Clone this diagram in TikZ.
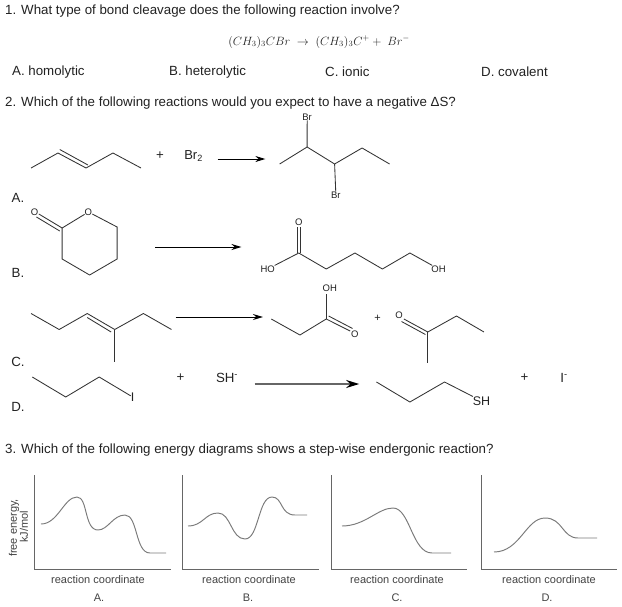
\documentclass[tikz,border=0pt]{standalone}
\usepackage{fontspec}
\setmainfont{Liberation Sans}
\usetikzlibrary{arrows.meta}
\definecolor{ink}{HTML}{222222}
\definecolor{bond}{HTML}{333333}
\definecolor{axisc}{HTML}{666666}
\definecolor{curvec}{HTML}{7A7A7A}
\tikzset{
 txt/.style={inner sep=0pt,text=ink,font=\fontsize{13.3}{15}\selectfont},
 qtxt/.style={txt,anchor=west},
 atom/.style={inner sep=0pt,text=ink,font=\fontsize{9.5}{11}\selectfont},
 atomb/.style={inner sep=0pt,text=ink,font=\fontsize{12.5}{14}\selectfont},
 axlabel/.style={inner sep=0pt,text=ink!85,font=\fontsize{11}{12}\selectfont},
 mol/.style={draw=bond,line width=0.85pt,line join=miter},
 rxn/.style={draw=black,line width=1pt,-{Stealth[length=10pt,width=6pt]}},
 rxng/.style={draw=black!60,line width=1.6pt,-{Stealth[length=13pt,width=8pt,color=black]}},
 axes/.style={draw=axisc,line width=0.8pt},
 curve/.style={draw=curvec,line width=0.95pt},
}
\begin{document}
\begin{tikzpicture}[x=1pt,y=-1pt]
\useasboundingbox[fill=white] (0,0) rectangle (622,606);
% Question 1
\node[qtxt] (q1) at (5,11) {1. What type of bond cleavage does the following reaction involve?};
\node[inner sep=0pt,text=ink,font=\fontsize{12}{14}\selectfont] (eq) at (319,42) {$(CH_3)_3CBr\ \rightarrow\ (CH_3)_3C^+ +\ Br^-$};
\node[qtxt] (a1) at (12,72) {A. homolytic};
\node[qtxt] (b1) at (169,72) {B. heterolytic};
\node[qtxt] (c1) at (325,72) {C. ionic};
\node[qtxt] (d1) at (481,72) {D. covalent};
% Question 2
\node[qtxt] (q2) at (5,103) {2. Which of the following reactions would you expect to have a negative ΔS?};
\begin{scope}[xscale=1.195]
% Reaction A
\draw[mol] (26,168) -- (48.5,153) -- (72,168) -- (94.5,153) -- (118,168);
\draw[mol] (50,149.5) -- (73.6,165);
\node[txt] (pa) at (134,156) {+};
\node[txt] (br2) at (162,156) {\fontsize{13}{14}\selectfont Br\textsubscript{2}};
\coordinate (a1s) at (182,159); \coordinate (a1e) at (222,159);
\draw[rxn] (a1s) -- (a1e);
\node[atom] (bra) at (257,117) {Br};
\node[atom] (brb) at (281,195) {Br};
\draw[mol] (234,164) -- (257,147) -- (280,164) -- (303,148) -- (326,164);
\draw[mol] (bra) -- (257,147);
\draw[mol] (280,164) -- (brb);
\node[txt] (la) at (15,198) {A.};
% Reaction B
\node[atom] (ocb) at (29,212) {O};
\node[atom] (orb) at (74,212) {O};
\draw[mol] (orb) -- (98,227) -- (98,259) -- (75,275) -- (52,259) -- (52,228) -- (orb);
\draw[mol] (52,228) -- (32.5,214);
\draw[mol] (50,231) -- (30.5,217);
\coordinate (bs) at (130,247); \coordinate (be) at (202,247);
\draw[rxn] (bs) -- (be);
\node[atom] (opb) at (250,222) {O};
\node[atom] (hob) at (224,269) {HO};
\node[atom] (ohb) at (367,269) {OH};
\draw[mol] (hob) -- (250,253) -- (273,269) -- (297,253) -- (320,269) -- (343,253) -- (ohb);
\draw[mol] (248.8,253) -- (248.8,227);
\draw[mol] (251.2,253) -- (251.2,227);
\node[txt] (lb) at (15,273) {B.};
% Reaction C
\draw[mol] (26,313.5) -- (49.5,329.5) -- (73,313.5) -- (96,329.5) -- (120,313.5) -- (143.5,329.5);
\draw[mol] (73,317.5) -- (93,332);
\draw[mol] (96,329.5) -- (96,362);
\coordinate (cs) at (147,317); \coordinate (ce) at (220,317);
\draw[rxn] (cs) -- (ce);
\node[atom] (ohc) at (276,288) {OH};
\node[atom] (odc) at (297,334) {O};
\draw[mol] (227,319) -- (251,335) -- (273,319);
\draw[mol] (273,319) -- (273,294);
\draw[mol] (273,319) -- (293,331);
\draw[mol] (275,316) -- (295,328.5);
\node[txt] (pc) at (316,318) {\fontsize{11}{12}\selectfont +};
\node[atom] (odc2) at (334,315) {O};
\draw[mol] (358,332) -- (382,316) -- (405,332);
\draw[mol] (358,332) -- (358,363);
\draw[mol] (358,332) -- (338,319);
\draw[mol] (356,334.5) -- (336,321.5);
\node[txt] (lc) at (15,362) {C.};
% Reaction D
\node[atomb] (id) at (111,397) {I};
\draw[mol] (27,377) -- (55,397) -- (83,377) -- (id);
\node[txt] (pd) at (151,378) {+};
\node[txt] (shm) at (190,378) {SH\textsuperscript{-}};
\coordinate (ds) at (213,384); \coordinate (de) at (300.5,384);
\draw[rxng] (ds) -- (de);
\node[atomb] (shd) at (403,401) {SH};
\draw[mol] (315,382) -- (343,402) -- (372,382) -- (shd);
\node[txt] (pd2) at (439,378) {+};
\node[txt] (im) at (472,378) {I\textsuperscript{-}};
\node[txt] (ld) at (15,407) {D.};
\end{scope}
% Question 3
\node[qtxt] (q3) at (5,450) {3. Which of the following energy diagrams shows a step-wise endergonic reaction?};
% Energy diagram A
\draw[axes] (34,475) -- (34,569) -- (171,569);
\draw[curve] (41,524) .. controls (58,524) and (64,497) .. (77,497) .. controls (88,497) and (84,530) .. (98,530) .. controls (108,530) and (113,515) .. (125,515) .. controls (138,515) and (135,553) .. (150,553) -- (166,553);
% Energy diagram B
\draw[axes] (182,475) -- (182,569) -- (319,569);
\draw[curve] (188,526) .. controls (203,526) and (205,513) .. (218,513) .. controls (231,513) and (231,539) .. (245,539) .. controls (259,539) and (258,497) .. (272,497) .. controls (283,497) and (280,515) .. (295,515) -- (307,515);
% Energy diagram C
\draw[axes] (331,475) -- (331,569) -- (467,569);
\draw[curve] (342,526) .. controls (365,526) and (378,508) .. (393,508) .. controls (410,508) and (412,553) .. (432,553) -- (451,553);
% Energy diagram D
\draw[axes] (481,475) -- (481,569) -- (617,569);
\draw[curve] (494,552) .. controls (520,552) and (526,518) .. (545,518) .. controls (563,518) and (562,538) .. (578,538) -- (597,538);
% Axis labels
\node[axlabel,rotate=90] (ya) at (14,528) {free energy,};
\node[axlabel,rotate=90] (yb) at (24,527) {kJ/mol};
\node[axlabel] (xa) at (98,580) {reaction coordinate};
\node[axlabel] (xb) at (249,580) {reaction coordinate};
\node[axlabel] (xc) at (397,580) {reaction coordinate};
\node[axlabel] (xd) at (549,580) {reaction coordinate};
\node[axlabel] (ga) at (99,598) {A.};
\node[axlabel] (gb) at (248,598) {B.};
\node[axlabel] (gc) at (397,598) {C.};
\node[axlabel] (gd) at (547,598) {D.};
\end{tikzpicture}
\end{document}
